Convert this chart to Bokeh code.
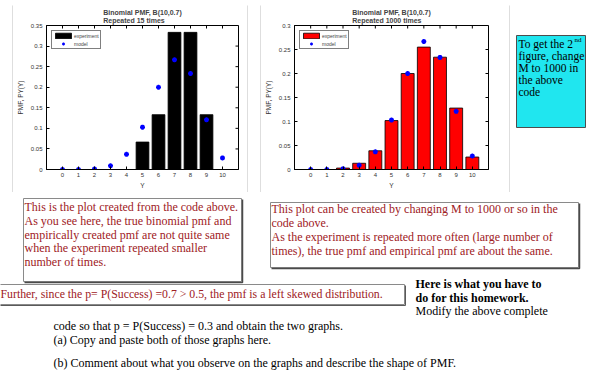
import math
from bokeh.plotting import figure
from bokeh.layouts import row, column
from bokeh.models import Range1d, FixedTicker, CustomJSTickFormatter, Spacer
from bokeh.core.properties import value
from bokeh.embed import file_html
from bokeh.resources import INLINE

# ---------------- data ----------------
y_vals = [0, 1, 2, 3, 4, 5, 6, 7, 8, 9, 10]
model_pmf = [0.0000, 0.0001, 0.0014, 0.0090, 0.0368, 0.1029, 0.2001, 0.2668, 0.2335, 0.1211, 0.0282]
exp_15 = [0, 0, 0, 0, 0, 0.0667, 0.1333, 0.3333, 0.3333, 0.1333, 0]
exp_1000 = [0, 0, 0.003, 0.013, 0.039, 0.102, 0.200, 0.255, 0.234, 0.128, 0.026]
x_lim = (-1, 11)
y_ticks_15 = [0, 0.05, 0.1, 0.15, 0.2, 0.25, 0.3, 0.35]
y_ticks_1000 = [0, 0.05, 0.1, 0.15, 0.2, 0.25, 0.3]
title_15 = "Binomial PMF, B(10,0.7)\nRepeated 15 times"
title_1000 = "Binomial PMF, B(10,0.7)\nRepeated 1000 times"
x_label = "Y"
y_label = "PMF, PY(Y)"
legend_labels = ["experiment", "model"]

box1_lines = [
    "This is the plot created from the code above.",
    "As you see here, the true binomial pmf and",
    "empirically created pmf are not quite same",
    "when the experiment repeated smaller",
    "number of times.",
]
box2_lines = [
    "This plot can be created by changing M to 1000 or so in the",
    "code above.",
    "As the experiment is repeated more often (large number of",
    "times), the true pmf and empirical pmf are about the same.",
]
box3_line = "Further, since the p= P(Success) =0.7 > 0.5, the pmf is a left skewed distribution."
hw_bold = ["Here is what you have to", "do for this homework."]
hw_lines = ["Modify the above complete",
            "code so that p = P(Success) = 0.3 and obtain the two graphs.",
            "(a) Copy and paste both of those graphs here.",
            "(b) Comment about what you observe on the graphs and describe the shape of PMF."]
cyan_lines = ["To get the 2", "figure, change", "M to 1000 in", "the above", "code"]
cyan_sup = "nd"

RED = "#9e2024"
FRAME = "#bdbdbd"
SERIF = value("Liberation Serif")
SANS = "Liberation Sans"


def blank(w, h, color):
    f = figure(width=w, height=h, x_axis_type=None, y_axis_type=None, output_backend="svg",
               toolbar_location=None, min_border=0, outline_line_color=None,
               background_fill_color=color, border_fill_color=color)
    return f


def chart(width, mb_left, mb_right, exp, bar_color, ymax, yticks, title):
    p = figure(width=width, height=185, x_range=Range1d(*x_lim), y_range=Range1d(0, ymax),
               output_backend="svg", toolbar_location=None,
               min_border_left=mb_left, min_border_right=mb_right,
               min_border_top=19, min_border_bottom=17)
    p.title.text = title
    p.title.align = "center"
    p.title.text_font = SANS
    p.title.text_font_size = "7px"
    p.title.text_font_style = "bold"
    p.title.text_line_height = 1.15
    p.title.standoff = 2
    p.title.offset = 0
    p.grid.visible = False
    p.outline_line_color = "black"
    p.outline_line_width = 1

    for ax in (p.xaxis[0], p.yaxis[0]):
        ax.major_tick_in = 3
        ax.major_tick_out = 0
        ax.minor_tick_line_color = None
        ax.axis_line_color = "black"
        ax.major_label_text_font = SANS
        ax.major_label_text_font_size = "6px"
        ax.major_label_text_color = "#333333"
        ax.axis_label_text_font = SANS
        ax.axis_label_text_font_size = "6.5px"
        ax.axis_label_text_font_style = "normal"
        ax.axis_label_text_color = "#333333"
    p.xaxis.ticker = FixedTicker(ticks=y_vals)
    p.xaxis.major_label_standoff = 3
    p.xaxis.axis_label = x_label
    p.xaxis.axis_label_standoff = 2
    p.yaxis.ticker = FixedTicker(ticks=yticks)
    p.yaxis.formatter = CustomJSTickFormatter(code="return String(Math.round(tick*100)/100);")
    p.yaxis.major_label_standoff = 4
    p.yaxis.axis_label = y_label
    p.yaxis.axis_label_standoff = 4

    # inward ticks on the right and top edges (box on)
    p.ray(x=[x_lim[1]] * len(yticks), y=yticks, length=3, length_units="screen",
          angle=math.pi, line_color="black", line_width=1)
    p.ray(x=y_vals, y=[ymax] * len(y_vals), length=3, length_units="screen",
          angle=-math.pi / 2, line_color="black", line_width=1)

    p.vbar(x=y_vals, top=exp, width=0.8, fill_color=bar_color, line_color="black",
           line_width=0.8, legend_label=legend_labels[0])
    p.scatter(x=y_vals, y=model_pmf, marker="asterisk", size=5, line_color="#0000ff",
              line_width=1.5, legend_label=legend_labels[1])
    leg = p.legend[0]
    leg.location = "top_left"
    leg.margin = 5
    leg.padding = 1
    leg.spacing = 1
    leg.glyph_width = 20
    leg.glyph_height = 7
    leg.label_height = 7
    leg.label_standoff = 1
    leg.label_text_font = SANS
    leg.label_text_font_size = "5px"
    leg.border_line_color = "black"
    leg.border_line_width = 1
    return p


def framed(fig, w, h):
    inner = column(blank(w, 1, FRAME), fig, blank(w, 1, FRAME))
    return row(blank(1, h + 2, FRAME), inner, blank(1, h + 2, FRAME))


left_fig = chart(234, 32, 9, exp_15, "black", 0.35, y_ticks_15, title_15)
right_fig = chart(248, 33, 21, exp_1000, "#ff0000", 0.3, y_ticks_1000, title_1000)

# cyan note box (picture coords 510..586 x 5..192)
cyan = figure(width=76, height=187, x_range=Range1d(510, 586), y_range=Range1d(192, 5),
              x_axis_type=None, y_axis_type=None, output_backend="svg", toolbar_location=None,
              min_border=0, outline_line_color=None)
cyan.quad(left=[516], right=[585], top=[35], bottom=[127], fill_color="#20e6ef",
          line_color="#4d4d4d", line_width=1)
cyan.text(x=[518] * len(cyan_lines), y=[43, 55, 67, 79, 91], text=cyan_lines,
          text_font=SERIF, text_font_size="11.5px", text_color="black", text_baseline="middle")
cyan.text(x=[574], y=[39], text=[cyan_sup], text_font=SERIF, text_font_size="7px",
          text_color="black", text_baseline="middle")

# document part (picture coords 0..586 x 192..371)
doc = figure(width=586, height=179, x_range=Range1d(0, 586), y_range=Range1d(371, 192),
             x_axis_type=None, y_axis_type=None, output_backend="svg", toolbar_location=None,
             min_border=0, outline_line_color=None)

# box 1
doc.quad(left=[23], right=[241], top=[198], bottom=[281], fill_color="white",
         line_color="#8a8a8a", line_width=1)
doc.line(x=[24, 242, 242], y=[282, 282, 199], line_color="#4a4a4a", line_width=1.5)
doc.text(x=[24] * len(box1_lines), y=[206, 220, 234, 247, 261], text=box1_lines,
         text_font=SERIF, text_font_size="12px", text_color=RED, text_baseline="middle")
# box 2
doc.quad(left=[270], right=[578], top=[202], bottom=[267], fill_color="white",
         line_color="#8a8a8a", line_width=1)
doc.line(x=[271, 579, 579], y=[268, 268, 203], line_color="#4a4a4a", line_width=1.5)
doc.text(x=[271] * len(box2_lines), y=[208, 222, 236, 250], text=box2_lines,
         text_font=SERIF, text_font_size="12px", text_color=RED, text_baseline="middle")
# box 3
doc.quad(left=[-4], right=[404], top=[284], bottom=[304], fill_color="white",
         line_color="#8a8a8a", line_width=1)
doc.line(x=[-4, 405, 405], y=[305, 305, 285], line_color="#5a5a5a", line_width=1)
doc.text(x=[0], y=[293], text=[box3_line], text_font=SERIF, text_font_size="11.8px",
         text_color=RED, text_baseline="middle")
# homework text
doc.text(x=[415, 415], y=[283, 297], text=hw_bold, text_font=SERIF, text_font_size="12px",
         text_font_style="bold", text_color="black", text_baseline="middle")
doc.text(x=[415, 53, 53, 53], y=[310, 325, 339, 362], text=hw_lines, text_font=SERIF,
         text_font_size="12px", text_color="black", text_baseline="middle")

top = row(Spacer(width=12, height=187), framed(left_fig, 234, 185), Spacer(width=12, height=187),
          framed(right_fig, 248, 185), cyan)
page = column(Spacer(width=586, height=5), top, doc)

open("out.html", "w").write(file_html(page, INLINE))
